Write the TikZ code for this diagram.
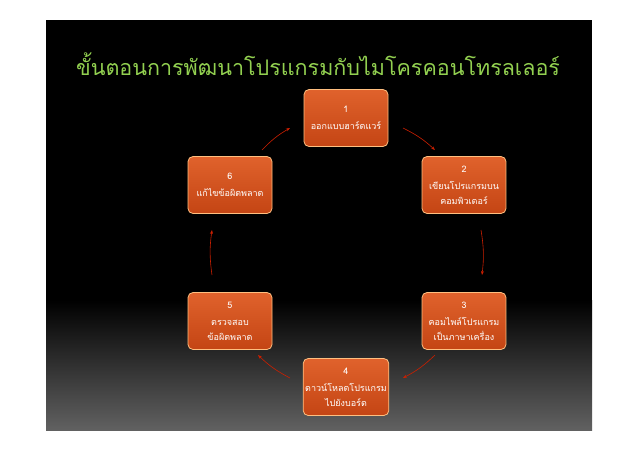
\documentclass[tikz,border=0pt]{standalone}
\usepackage{fontspec}
\newfontfamily\thaifont[Script=Thai]{Loma}
\usetikzlibrary{arrows.meta}
\definecolor{boxA}{HTML}{E0622C}
\definecolor{boxB}{HTML}{C44514}
\definecolor{ttl}{HTML}{92D050}
\begin{document}
\begin{tikzpicture}[x=1pt,y=-1pt,
 box/.style={draw=orange!50!white,line width=0.8pt,rounded corners=5pt,top color=boxA,bottom color=boxB,minimum width=84pt,minimum height=57pt,text=white,align=center,font=\thaifont\fontsize{9}{15}\selectfont,inner sep=2pt},
 arr/.style={draw=red!70!orange!80!black,line width=0.6pt,-{Stealth[length=4pt]}}]
\useasboundingbox (0,0) rectangle (638,451);
\fill[white] (0,0) rectangle (638,451);
\fill[black] (46,20) rectangle (592,301);
\shade[top color=black,bottom color=black!62] (46,300) rectangle (592,430);
\node[font=\thaifont\fontsize{21.5}{25}\selectfont,text=ttl] (t) at (318,64) {ขั้นตอนการพัฒนาโปรแกรมกับไมโครคอนโทรลเลอร์};
\node[box] (b1) at (346,118) {1\\[2pt]ออกแบบฮาร์ดแวร์};
\node[box] (b2) at (464,185) {2\\[2pt]เขียนโปรแกรมบน\\คอมพิวเตอร์};
\node[box] (b3) at (464,321) {3\\[2pt]คอมไพล์โปรแกรม\\เป็นภาษาเครื่อง};
\node[box] (b4) at (346,387) {4\\[2pt]ดาวน์โหลดโปรแกรม\\ไปยังบอร์ด};
\node[box] (b5) at (230,321) {5\\[2pt]ตรวจสอบ\\ข้อผิดพลาด};
\node[box] (b6) at (230,185) {6\\[2pt]แก้ไขข้อผิดพลาด};
\coordinate (a1) at (403,128); \coordinate (a2) at (435,150);
\coordinate (c1) at (481,230); \coordinate (c2) at (482,275);
\coordinate (d1) at (435,355); \coordinate (d2) at (403,378);
\coordinate (e1) at (290,378); \coordinate (e2) at (258,355);
\coordinate (f1) at (212,275); \coordinate (f2) at (212,230);
\coordinate (g1) at (262,150); \coordinate (g2) at (290,128);
\draw[arr] (a1) to[bend left=8] (a2);
\draw[arr] (c1) to[bend left=8] (c2);
\draw[arr] (d1) to[bend left=8] (d2);
\draw[arr] (e1) to[bend left=8] (e2);
\draw[arr] (f1) to[bend left=8] (f2);
\draw[arr] (g1) to[bend left=8] (g2);
\end{tikzpicture}
\end{document}
